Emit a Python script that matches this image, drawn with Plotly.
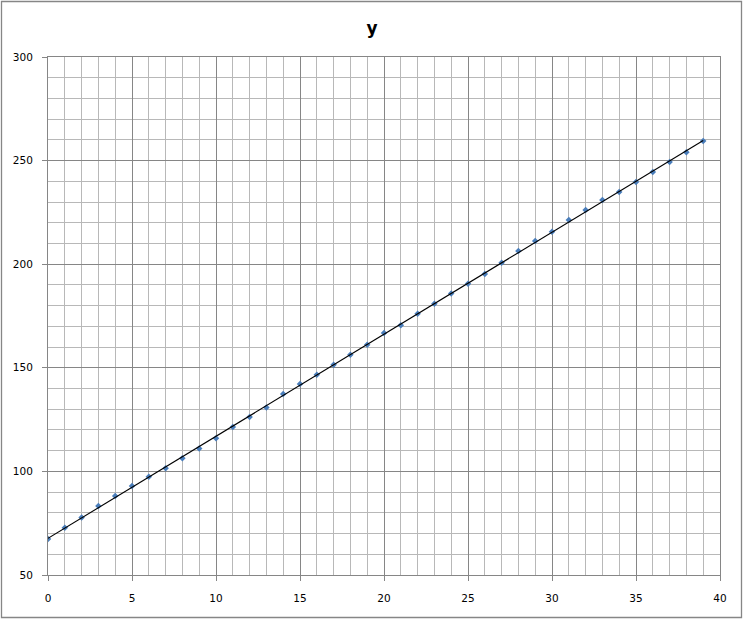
import numpy as np
import plotly.graph_objects as go

x_vals = list(range(40))
y_vals = [67.4, 72.8, 77.8, 83.3, 88.1, 93.0, 97.4, 101.5, 106.3, 111.1,
          116.0, 121.4, 126.3, 130.9, 137.4, 142.2, 146.7, 151.5, 156.3, 161.1,
          166.8, 170.5, 176.1, 180.9, 185.8, 190.6, 195.3, 200.7, 206.4, 211.2,
          215.7, 221.3, 226.2, 231.0, 234.8, 239.7, 244.5, 249.3, 254.0, 259.5]
title_text = "y"

slope, intercept = np.polyfit(x_vals, y_vals, 1)
fit_x = [x_vals[0], x_vals[-1]]
fit_y = [intercept + slope * v for v in fit_x]

W, H = 744, 620
L, T, R, B = 48, 57, 24, 45
pw, ph = W - L - R, H - T - B

major = "#868686"
minor = "#b8b8b8"
tickfont = dict(family="DejaVu Sans, Verdana, sans-serif", size=10.5, color="#000000")

fig = go.Figure()
fig.add_trace(go.Scatter(x=x_vals, y=y_vals, mode="markers",
                         marker=dict(size=5, color="#4a7ebb", symbol="diamond"),
                         showlegend=False))
fig.add_trace(go.Scatter(x=fit_x, y=fit_y, mode="lines",
                         line=dict(color="#000000", width=1.1),
                         showlegend=False))

fig.update_layout(
    width=W, height=H,
    margin=dict(l=L, r=R, t=T, b=B, pad=0),
    paper_bgcolor="white", plot_bgcolor="white",
    title=dict(text="<b>" + title_text + "</b>", x=0.5, xanchor="center",
               y=1 - 28 / H, yanchor="middle",
               font=dict(family="DejaVu Sans, Verdana, sans-serif", size=17, color="#000000")),
    xaxis=dict(range=[0, 40], dtick=5, tick0=0, showgrid=True, gridcolor=major, gridwidth=1,
               minor=dict(dtick=1, showgrid=True, gridcolor=minor, gridwidth=1),
               zeroline=False, showline=True, linecolor=major, linewidth=1, mirror=True,
               ticks="outside", ticklen=5, tickcolor=major, tickfont=tickfont,
               ticklabelstandoff=8, fixedrange=True),
    yaxis=dict(range=[50, 300], dtick=50, tick0=50, showgrid=True, gridcolor=major, gridwidth=1,
               minor=dict(dtick=10, showgrid=True, gridcolor=minor, gridwidth=1),
               zeroline=False, showline=True, linecolor=major, linewidth=1, mirror=True,
               ticks="outside", ticklen=5, tickcolor=major, tickfont=tickfont,
               ticklabelstandoff=7, fixedrange=True),
    shapes=[dict(type="rect", xref="paper", yref="paper",
                 x0=(1.5 - L) / pw, x1=(741.5 - L) / pw,
                 y0=(H - B - 617.5) / ph, y1=(H - B - 1.5) / ph,
                 line=dict(color="#868686", width=1.3), fillcolor="rgba(0,0,0,0)", layer="below")],
)

fig.write_html("out.html", config={"displayModeBar": False},
               post_script="document.body.style.margin='0';document.body.style.overflow='hidden';")
